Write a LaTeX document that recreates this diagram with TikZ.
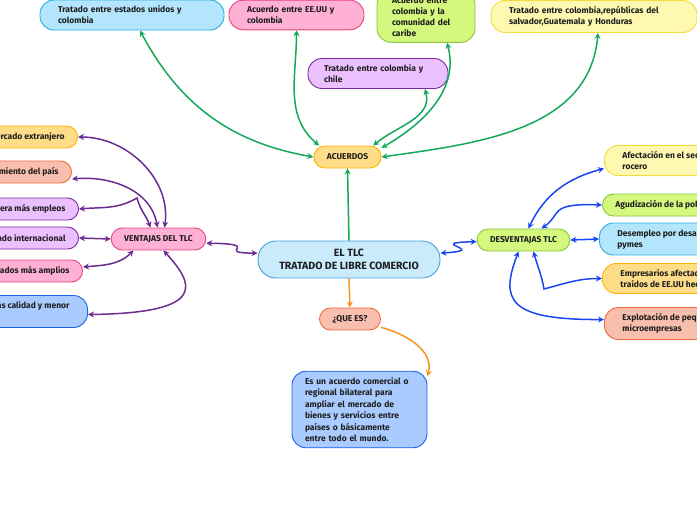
\documentclass[tikz,border=0pt]{standalone}
\usepackage{fontspec}
\setmainfont{Fira Sans}
\usetikzlibrary{arrows.meta}
\definecolor{txt}{HTML}{1E1E1E}
\definecolor{bluef}{HTML}{B3E5FC}
\definecolor{bluel}{HTML}{29ABE2}
\definecolor{pinkf}{HTML}{FFB0D5}
\definecolor{pinkl}{HTML}{E8447F}
\definecolor{limef}{HTML}{D4F77E}
\definecolor{limel}{HTML}{8CC63F}
\definecolor{yelf}{HTML}{FFF8B0}
\definecolor{yell}{HTML}{F2DC3C}
\definecolor{lavf}{HTML}{EBC0FF}
\definecolor{lavl}{HTML}{7B2B9A}
\definecolor{orf}{HTML}{FFDD88}
\definecolor{orl}{HTML}{FFB300}
\definecolor{salf}{HTML}{F8BFAE}
\definecolor{sall}{HTML}{F06A3C}
\definecolor{tlcf}{HTML}{C9EBFB}
\definecolor{tlcl}{HTML}{4A9FDB}
\definecolor{descf}{HTML}{A9CBFF}
\definecolor{descl}{HTML}{1C64E6}
\definecolor{grn}{HTML}{14A85A}
\definecolor{prp}{HTML}{6A2C91}
\definecolor{blu}{HTML}{1A45F5}
\definecolor{org}{HTML}{F7931E}

\begin{document}
\begin{tikzpicture}[x=1pt,y=1pt,
  box/.style={draw,line width=0.9pt,rounded corners=11pt,font=\bfseries\fontsize{8.5}{11}\selectfont,
    text=txt,align=left,inner xsep=13pt,inner ysep=0pt,minimum height=22pt},
  tall/.style={box,rounded corners=14pt,inner xsep=18pt,inner ysep=6pt},
  tip/.style={{Stealth[length=6pt,width=6pt,inset=2pt]}-{Stealth[length=6pt,width=6pt,inset=2pt]}},
  gline/.style={draw=grn,line width=1.5pt,tip},
  pline/.style={draw=prp,line width=1.5pt,tip},
  bline/.style={draw=blu,line width=1.5pt,tip},
  oline/.style={draw=org,line width=1.5pt,-{Stealth[length=6pt,width=6pt,inset=2pt]}}]

\useasboundingbox (0,0) rectangle (697,-520);

\clip (0,0) rectangle (697,-520);

\node[tall,fill=bluef,draw=bluel,text width=148pt] (eeuu) at (132,-15) {Tratado entre estados unidos y\\colombia};

\node[tall,fill=pinkf,draw=pinkl,text width=99pt] (eeuu2) at (296.5,-15) {Acuerdo entre EE.UU y\\colombia};

\node[tall,fill=limef,draw=limel,text width=68pt,inner xsep=15pt] (caribe) at (426,-16.5) {Acuerdo entre\\colombia y la\\comunidad del\\caribe};

\node[tall,fill=yelf,draw=yell,text width=170pt] (paises) at (594,-16.5) {Tratado entre colombia,repúblicas del\\salvador,Guatemala y Honduras};

\node[tall,fill=lavf,draw=lavl,text width=108pt,inner xsep=16pt] (chile) at (378,-73.5) {Tratado entre colombia y\\chile};

\node[box,fill=orf,draw=orl] (acu) at (347.5,-157) {ACUERDOS};

\node[box,fill=tlcf,draw=tlcl,align=center,minimum width=182pt,minimum height=37pt,rounded corners=18pt,
  font=\bfseries\fontsize{10.5}{12.5}\selectfont] (tlc) at (349,-259.5) {EL TLC\\TRATADO DE LIBRE COMERCIO};

\node[box,fill=salf,draw=sall] (que) at (350,-319) {¿QUE ES?};

\node[tall,fill=descf,draw=descl,text width=109pt,inner xsep=13pt,
  font=\bfseries\fontsize{8.5}{11.5}\selectfont] (desc) at (359.5,-409.5)
  {Es un acuerdo comercial o\\regional bilateral para\\ampliar el mercado de\\bienes y servicios entre\\países o básicamente\\entre todo el mundo.};

\node[box,fill=pinkf,draw=pinkl] (vent) at (158.5,-239) {VENTAJAS DEL TLC};

\node[box,fill=orf,draw=orl,anchor=east] (l1) at (78,-137) {Apertura al mercado extranjero};

\node[box,fill=salf,draw=sall,anchor=east] (l2) at (72,-172) {Crecimiento del país};

\node[box,fill=lavf,draw=lavl,anchor=east] (l3) at (79,-209) {Genera más empleos};

\node[box,fill=lavf,draw=lavl,anchor=east] (l4) at (79,-238) {Mercado internacional};

\node[box,fill=pinkf,draw=pinkl,anchor=east] (l5) at (83,-271) {Mercados más amplios};

\node[tall,fill=descf,draw=descl,anchor=east] (l6) at (88,-311.5) {Productos de más calidad y menor\\precio};

\node[box,fill=limef,draw=limel] (desv) at (523.5,-240) {DESVENTAJAS TLC};

\node[tall,fill=yelf,draw=yell,anchor=west] (r1) at (604,-160.5) {Afectación en el sector ar\\rocero};

\node[box,fill=limef,draw=limel,anchor=west] (r2) at (602,-205) {Agudización de la pobreza};

\node[tall,fill=bluef,draw=bluel,anchor=west] (r3) at (599,-239) {Desempleo por desaparición de\\pymes};

\node[tall,fill=orf,draw=orl,anchor=west] (r4) at (602,-278.5) {Empresarios afectados por productos\\traídos de EE.UU hechos en China};

\node[tall,fill=salf,draw=sall,anchor=west] (r5) at (604,-323.5) {Explotación de pequeñas y\\microempresas};

\draw[gline] ([xshift=8pt]eeuu.south) to[out=-62,in=170] (acu.west);

\draw[gline] (eeuu2.south) to[out=-90,in=140] (acu.158);

\draw[gline] ([xshift=47pt]chile.south) to[out=-75,in=40] (acu.24);

\draw[gline] ([xshift=21pt]caribe.south) to[out=-75,in=30] (acu.15);

\draw[gline] ([xshift=4pt]paises.south) to[out=-95,in=8] (acu.east);

\draw[draw=grn,line width=1.5pt,-{Stealth[length=6pt,width=6pt,inset=2pt]}] (tlc.north) -- (acu.south);

\draw[oline] (tlc.south) -- (que.north);

\draw[oline] (que.-15) to[out=-15,in=75] (desc.26);

\draw[pline] (vent.-5) .. controls (266,-244) and (212,-253) .. (tlc.176);

\draw[pline] (l1.east) to[out=0,in=82] ([xshift=6pt]vent.north);

\draw[pline] ([yshift=-7pt]l2.east) to[out=5,in=100] ([xshift=-1pt]vent.north);

\draw[pline] (l3.east) to[out=5,in=-150] (137,-198) to[out=-75,in=110] ([xshift=-8pt]vent.north);

\draw[pline] (l4.east) -- (vent.west);

\draw[pline] ([yshift=4pt]l5.east) to[out=5,in=-135] ([xshift=-25pt]vent.south);

\draw[pline] ([yshift=-3pt]l6.east) .. controls (212,-313) and (192,-282) .. ([xshift=5pt]vent.south);

\draw[bline] (tlc.4) .. controls (492,-250) and (422,-243) .. (desv.182);

\draw[bline] ([xshift=5pt]desv.north) to[out=65,in=195] ([yshift=-8pt]r1.west);

\draw[bline] ([xshift=18pt]desv.north) .. controls (562,-214) and (548,-203) .. (r2.west);

\draw[bline] (desv.east) -- (r3.west);

\draw[bline] ([xshift=10pt]desv.south) to[out=-75,in=100] (544,-289) to[out=15,in=180] (r4.west);

\draw[bline] ([xshift=-5pt]desv.south) .. controls (500,-300) and (508,-320) .. ([yshift=4pt]r5.west);

\end{tikzpicture}
\end{document}
